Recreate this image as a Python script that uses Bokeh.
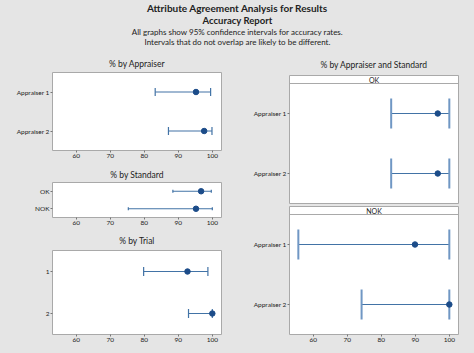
from bokeh.plotting import figure
from bokeh.layouts import column, row
from bokeh.models import (Range1d, FactorRange, Whisker, TeeHead, ColumnDataSource,
                          FixedTicker, Label, Span)
from bokeh.embed import file_html
from bokeh.resources import INLINE

# ---------------- data ----------------
header_lines = ["Attribute Agreement Analysis for Results",
                "Accuracy Report",
                "All graphs show 95% confidence intervals for accuracy rates.",
                "Intervals that do not overlap are likely to be different."]

appraisers = ["Appraiser 1", "Appraiser 2"]
app_pct = [95.2, 97.6]
app_lo = [83.2, 87.1]
app_hi = [99.5, 99.9]

standards = ["OK", "NOK"]
std_pct = [96.7, 95.2]
std_lo = [88.4, 75.3]
std_hi = [99.7, 100.0]

trials = ["1", "2"]
trial_pct = [92.7, 100.0]
trial_lo = [79.8, 93.0]
trial_hi = [98.7, 100.0]

ok_pct = [96.6, 96.6]
ok_lo = [82.9, 82.9]
ok_hi = [100.0, 100.0]

nok_pct = [89.9, 100.0]
nok_lo = [55.6, 74.2]
nok_hi = [100.0, 100.0]

x_ticks = [60, 70, 80, 90, 100]

# ---------------- style ----------------
BG = "#e5e5e5"
FRAME = "#a9a9a9"
LINE = "#4273a6"
DOT = "#1c4c89"
CAP_R = "#7097c4"
TXT = "#222222"
FONT = "Lato"
X0, X1 = 53.0, 102.7
DOT_SIZE = 5.5


def style_fig(p, title=None, standoff=5):
    p.border_fill_color = BG
    p.background_fill_color = "white"
    p.outline_line_color = FRAME
    p.outline_line_width = 1
    p.grid.grid_line_color = None
    if title is not None:
        p.title.align = "center"
        p.title.text_font = FONT
        p.title.text_font_size = "8.5px"
        p.title.text_font_style = "normal"
        p.title.text_color = TXT
        p.title.standoff = standoff
    for ax in p.axis:
        ax.axis_line_color = None
        ax.major_tick_line_color = "#777777"
        ax.major_tick_in = 0
        ax.major_tick_out = 2
        ax.minor_tick_line_color = None
        ax.major_label_text_font = FONT
        ax.major_label_text_font_size = "6.5px"
        ax.major_label_text_color = TXT
        ax.major_label_standoff = 1


def cat_fig(width, height, y_factors, mb, title, standoff):
    p = figure(width=width, height=height, output_backend="svg", toolbar_location=None,
               x_range=Range1d(X0, X1),
               y_range=FactorRange(factors=list(reversed(y_factors))),
               title=title,
               min_border_left=mb[0], min_border_right=mb[1],
               min_border_top=mb[2], min_border_bottom=mb[3])
    style_fig(p, title, standoff)
    p.xaxis.ticker = FixedTicker(ticks=x_ticks)
    return p


def add_interval(p, cats, pct, lo, hi, cap, cap_color, cap_w):
    src = ColumnDataSource(dict(cat=cats, pct=pct, lo=lo, hi=hi))
    w = Whisker(source=src, base="cat", lower="lo", upper="hi", dimension="width",
                line_color=LINE, line_width=1.2,
                lower_head=TeeHead(size=cap, line_color=cap_color, line_width=cap_w),
                upper_head=TeeHead(size=cap, line_color=cap_color, line_width=cap_w))
    p.add_layout(w)
    p.scatter("pct", "cat", source=src, size=DOT_SIZE, color=DOT)


STRIP_UNITS = 8.0 / 60.0   # strip height in category units (8 px at 60 px per category)


def facet_fig(width, height, mb, strip_text, pct, lo, hi, title=None, x_axis=True, standoff=5):
    n = len(appraisers)
    ypos = [n - 1 - i for i in range(n)]
    kw = {"title": title} if title is not None else {}
    p = figure(width=width, height=height, output_backend="svg", toolbar_location=None,
               x_range=Range1d(X0, X1),
               y_range=Range1d(-0.5, n - 0.5 + STRIP_UNITS),
               x_axis_location="below" if x_axis else None,
               min_border_left=mb[0], min_border_right=mb[1],
               min_border_top=mb[2], min_border_bottom=mb[3], **kw)
    style_fig(p, title, standoff=standoff)
    p.yaxis.ticker = FixedTicker(ticks=ypos)
    p.yaxis.major_label_overrides = {yy: name for yy, name in zip(ypos, appraisers)}
    if x_axis:
        p.xaxis.ticker = FixedTicker(ticks=x_ticks)
    p.add_layout(Span(location=n - 0.5, dimension="width", line_color=FRAME, line_width=1))
    p.add_layout(Label(x=(X0 + X1) / 2, y=n - 0.5 + STRIP_UNITS / 2, text=strip_text,
                       text_align="center", text_baseline="middle",
                       text_font=FONT, text_font_size="7px", text_color=TXT))
    src = ColumnDataSource(dict(y=ypos, pct=pct, lo=lo, hi=hi))
    w = Whisker(source=src, base="y", lower="lo", upper="hi", dimension="width",
                line_color=LINE, line_width=1.2,
                lower_head=TeeHead(size=30, line_color=CAP_R, line_width=2),
                upper_head=TeeHead(size=30, line_color=CAP_R, line_width=2))
    p.add_layout(w)
    p.scatter("pct", "y", source=src, size=DOT_SIZE, color=DOT)
    return p


LW, RW = 240, 234
HDR_H = 50

# header
hdr = figure(width=474, height=HDR_H, output_backend="svg", toolbar_location=None,
             x_range=Range1d(0, 1), y_range=Range1d(0, HDR_H),
             x_axis_location=None, y_axis_location=None,
             min_border=0)
hdr.border_fill_color = BG
hdr.background_fill_color = BG
hdr.outline_line_color = None
hdr.grid.grid_line_color = None
hdr_y = [HDR_H - 7.5, HDR_H - 19.5, HDR_H - 31.5, HDR_H - 41.5]
hdr_sizes = ["10px", "9.5px", "8px", "8px"]
hdr_styles = ["bold", "bold", "normal", "normal"]
for t, yy, s, st in zip(header_lines, hdr_y, hdr_sizes, hdr_styles):
    hdr.add_layout(Label(x=0.5, y=yy, text=t, text_align="center", text_baseline="middle",
                         text_font=FONT, text_font_size=s, text_font_style=st, text_color=TXT))

# left column
pA = cat_fig(LW, 115, appraisers, (52, 19, 22, 15), "% by Appraiser", 6.4)
add_interval(pA, appraisers, app_pct, app_lo, app_hi, 8, LINE, 1.2)

pB = cat_fig(LW, 63, standards, (52, 19, 17, 11), "% by Standard", 4.4)
add_interval(pB, standards, std_pct, std_lo, std_hi, 3, LINE, 1.2)

pC = cat_fig(LW, 125, trials, (52, 19, 22, 19), "% by Trial", 9.4)
add_interval(pC, trials, trial_pct, trial_lo, trial_hi, 9, LINE, 1.2)

# right column
pOK = facet_fig(RW, 154, (49, 16, 25, 1), "OK", ok_pct, ok_lo, ok_hi,
                title="% by Appraiser and Standard", x_axis=False, standoff=12)
pNOK = facet_fig(RW, 149, (49, 16, 2, 19), "NOK", nok_pct, nok_lo, nok_hi)

bgs = {"background-color": BG}
layout = column(hdr,
                row(column(pA, pB, pC, spacing=0, styles=bgs),
                    column(pOK, pNOK, spacing=0, styles=bgs), spacing=0, styles=bgs),
                spacing=0, styles=bgs)

html = file_html(layout, INLINE)
html = html.replace("<body>", '<body style="margin:0;background-color:%s;">' % BG, 1)
open("out.html", "w").write(html)
